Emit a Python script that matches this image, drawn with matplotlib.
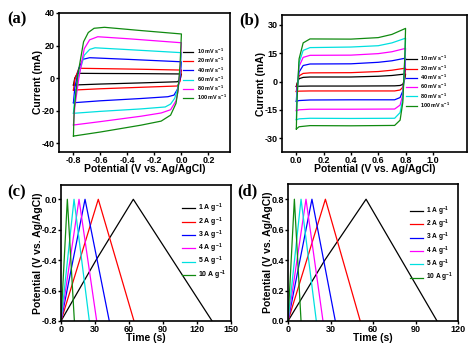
import matplotlib
matplotlib.use("Agg")
import matplotlib.pyplot as plt
from matplotlib.ticker import FormatStrFormatter

plt.rcParams['font.family'] = ['Liberation Sans', 'DejaVu Sans']
plt.rcParams['font.weight'] = 'bold'
plt.rcParams['axes.labelweight'] = 'bold'
plt.rcParams['axes.unicode_minus'] = False
plt.rcParams['mathtext.fontset'] = 'custom'
plt.rcParams['mathtext.rm'] = 'Liberation Sans:bold'
plt.rcParams['mathtext.bf'] = 'Liberation Sans:bold'
plt.rcParams['mathtext.it'] = 'Liberation Sans:bold'
plt.rcParams['mathtext.default'] = 'rm'

colors_a = ['#000000', '#ff0000', '#0000ff', '#00e0e0', '#ff00ff', '#108a10']
colors_b = ['#000000', '#ff0000', '#0000ff', '#ff00ff', '#00e0e0', '#108a10']
colors_gcd = ['#000000', '#ff0000', '#0000ff', '#ff00ff', '#00e0e0', '#108a10']

scan_labels = [r'10 mV s$^{-1}$', r'20 mV s$^{-1}$', r'40 mV s$^{-1}$',
               r'60 mV s$^{-1}$', r'80 mV s$^{-1}$', r'100 mV s$^{-1}$']
gcd_labels = [r'1 A g$^{-1}$', r'2 A g$^{-1}$', r'3 A g$^{-1}$',
              r'4 A g$^{-1}$', r'5 A g$^{-1}$', r'10 A g$^{-1}$']

# ---- panel (a) CV, -0.8..0 V ----
a_up_V = [
    [-0.8, -0.79, -0.77, -0.6, -0.3, 0.0],
    [-0.8, -0.79, -0.76, -0.6, -0.3, 0.0],
    [-0.8, -0.79, -0.76, -0.73, -0.68, -0.65, -0.4, 0.0],
    [-0.8, -0.79, -0.76, -0.72, -0.68, -0.64, -0.4, 0.0],
    [-0.8, -0.79, -0.76, -0.72, -0.68, -0.62, -0.4, 0.0],
    [-0.8, -0.795, -0.77, -0.725, -0.69, -0.647, -0.57, -0.3, 0.0],
]
a_up_I = [
    [-4.3, 0.0, 2.9, 2.8, 2.7, 2.5],
    [-7.4, -1.0, 6.0, 5.8, 5.4, 4.9],
    [-15.2, -6.0, 6.0, 11.5, 12.5, 12.4, 11.5, 10.0],
    [-21.7, -12.0, 2.0, 14.0, 17.6, 18.6, 17.5, 15.6],
    [-28.9, -18.0, 0.0, 18.0, 23.5, 25.4, 24.2, 21.7],
    [-35.7, -20.0, 0.8, 22.3, 28.0, 30.6, 31.2, 29.2, 27.1],
]
a_lo_V = [
    [0.0, -0.01, -0.03, -0.3, -0.6, -0.8],
    [0.0, -0.01, -0.03, -0.3, -0.6, -0.8],
    [0.0, -0.01, -0.03, -0.055, -0.1, -0.3, -0.6, -0.8],
    [0.0, -0.01, -0.025, -0.05, -0.08, -0.12, -0.3, -0.6, -0.8],
    [0.0, -0.01, -0.025, -0.04, -0.08, -0.15, -0.3, -0.6, -0.8],
    [0.0, -0.01, -0.025, -0.04, -0.08, -0.15, -0.3, -0.6, -0.8],
]
a_lo_I = [
    [2.5, -1.0, -2.3, -3.0, -3.7, -4.3],
    [4.9, -2.0, -4.9, -5.7, -6.6, -7.4],
    [10.0, 0.0, -7.0, -10.5, -11.5, -12.6, -14.0, -15.2],
    [15.6, 3.0, -6.0, -12.5, -16.0, -17.8, -19.0, -20.5, -21.7],
    [21.7, 5.0, -8.0, -14.0, -19.5, -21.5, -23.5, -26.8, -28.9],
    [27.1, 8.0, -7.4, -15.6, -22.8, -26.5, -29.0, -33.2, -35.7],
]

# ---- panel (b) CV, 0..0.8 V ----
b_up_V = [0.0, 0.005, 0.02, 0.05, 0.1, 0.4, 0.6, 0.7, 0.8]
b_lo_V = [0.8, 0.795, 0.78, 0.76, 0.72, 0.4, 0.1, 0.02, 0.0]
b_up_I = [
    [-2.6, -1.0, 1.5, 2.2, 2.4, 2.4, 2.8, 3.2, 4.0],
    [-5.3, -2.0, 3.0, 4.3, 4.6, 4.7, 5.3, 6.0, 7.1],
    [-10.5, -4.0, 5.0, 8.5, 9.3, 9.4, 10.2, 11.0, 12.4],
    [-15.5, -6.0, 8.0, 12.8, 13.9, 14.0, 14.8, 15.8, 17.6],
    [-20.3, -8.0, 10.0, 16.5, 18.0, 18.3, 19.0, 20.5, 23.0],
    [-25.2, -10.0, 12.0, 20.5, 22.6, 22.5, 23.3, 25.0, 28.2],
]
b_lo_I = [
    [4.0, 1.5, -1.5, -2.1, -2.3, -2.4, -2.4, -2.5, -2.6],
    [7.1, 3.0, -3.0, -4.5, -5.0, -5.0, -5.0, -5.1, -5.3],
    [12.4, 6.0, -5.0, -8.5, -9.7, -9.7, -9.8, -10.1, -10.5],
    [17.6, 9.0, -7.0, -12.5, -14.6, -14.7, -14.7, -15.0, -15.5],
    [23.0, 12.0, -9.0, -16.5, -19.5, -19.6, -19.5, -19.8, -20.3],
    [28.2, 14.0, -11.0, -20.5, -23.3, -23.5, -23.4, -24.0, -25.2],
]

# ---- panel (c) GCD, -0.8..0 V ----
c_t = [
    [0.0, 30.9, 63.8, 133.3],
    [0.0, 32.9, 64.4],
    [0.0, 21.2, 42.6],
    [0.0, 15.9, 31.5],
    [0.0, 11.5, 25.0],
    [0.0, 5.6, 11.8],
]
c_V = [
    [-0.8, -0.4, 0.0, -0.8],
    [-0.8, 0.0, -0.8],
    [-0.8, 0.0, -0.8],
    [-0.8, 0.0, -0.8],
    [-0.8, 0.0, -0.8],
    [-0.8, 0.0, -0.8],
]

# ---- panel (d) GCD, 0..0.8 V ----
d_t = [
    [0.0, 26.0, 55.1, 105.2],
    [0.0, 26.4, 51.0],
    [0.0, 16.9, 33.4],
    [0.0, 12.7, 24.7],
    [0.0, 9.2, 20.0],
    [0.0, 4.5, 9.2],
]
d_V = [
    [0.0, 0.4, 0.8, 0.0],
    [0.0, 0.8, 0.0],
    [0.0, 0.8, 0.0],
    [0.0, 0.8, 0.0],
    [0.0, 0.8, 0.0],
    [0.0, 0.8, 0.0],
]

W, H = 474, 354
fig = plt.figure(figsize=(W / 100, H / 100), dpi=100)

def add_ax(x0, y0, x1, y1):
    return fig.add_axes([x0 / W, 1 - y1 / H, (x1 - x0) / W, (y1 - y0) / H])

axA = add_ax(59, 13, 230, 152)
axB = add_ax(282, 15, 467, 152)
axC = add_ax(61, 185, 231, 321)
axD = add_ax(288, 184, 458, 321)

lw = 0.9
for k in range(6):
    axA.plot(a_up_V[k] + a_lo_V[k], a_up_I[k] + a_lo_I[k], color=colors_a[k], lw=lw, label=scan_labels[k])
    axB.plot(b_up_V + b_lo_V, b_up_I[k] + b_lo_I[k], color=colors_b[k], lw=lw, label=scan_labels[k])
    axC.plot(c_t[k], c_V[k], color=colors_gcd[k], lw=lw, label=gcd_labels[k])
    axD.plot(d_t[k], d_V[k], color=colors_gcd[k], lw=lw, label=gcd_labels[k])

axA.set_xlim(-0.907, 0.36); axA.set_ylim(-45.5, 40)
axA.set_xticks([-0.8, -0.6, -0.4, -0.2, 0.0, 0.2]); axA.set_yticks([-40, -20, 0, 20, 40])
axB.set_xlim(-0.105, 1.25); axB.set_ylim(-37.4, 35.3)
axB.set_xticks([0.0, 0.2, 0.4, 0.6, 0.8, 1.0]); axB.set_yticks([-30, -15, 0, 15, 30])
axC.set_xlim(0, 150); axC.set_ylim(-0.8, 0.094)
axC.set_xticks([0, 30, 60, 90, 120, 150]); axC.set_yticks([-0.8, -0.6, -0.4, -0.2, 0.0])
axD.set_xlim(0, 120); axD.set_ylim(0, 0.9)
axD.set_xticks([0, 30, 60, 90, 120]); axD.set_yticks([0.0, 0.2, 0.4, 0.6, 0.8])

axA.xaxis.set_major_formatter(FormatStrFormatter('%.1f'))
axB.xaxis.set_major_formatter(FormatStrFormatter('%.1f'))
axC.yaxis.set_major_formatter(FormatStrFormatter('%.1f'))
axD.yaxis.set_major_formatter(FormatStrFormatter('%.1f'))

for ax in (axA, axB, axC, axD):
    for s in ax.spines.values():
        s.set_linewidth(1.2)
    ax.tick_params(direction='out', length=2.0, width=1.0, pad=1.0, labelsize=6.5)
    for t in ax.get_xticklabels() + ax.get_yticklabels():
        t.set_fontweight('bold')

lab_fs = 7.5
axA.set_xlabel('Potential (V vs. Ag/AgCl)', fontsize=lab_fs, labelpad=-0.5)
axA.set_ylabel('Current (mA)', fontsize=lab_fs, labelpad=-1)
axB.set_xlabel('Potential (V vs. Ag/AgCl)', fontsize=lab_fs, labelpad=-0.5)
axB.set_ylabel('Current (mA)', fontsize=lab_fs, labelpad=-1)
axC.set_xlabel('Time (s)', fontsize=lab_fs, labelpad=-1)
axC.set_ylabel('Potential (V vs. Ag/AgCl)', fontsize=lab_fs, labelpad=-1)
axD.set_xlabel('Time (s)', fontsize=lab_fs, labelpad=-1)
axD.set_ylabel('Potential (V vs. Ag/AgCl)', fontsize=lab_fs, labelpad=-1)

leg_kw = dict(loc='upper left', frameon=False, borderpad=0, borderaxespad=0)
axA.legend(bbox_to_anchor=(0.723, 0.758), fontsize=4, handlelength=1.9,
           handletextpad=0.6, labelspacing=0.0, **leg_kw)
axB.legend(bbox_to_anchor=(0.672, 0.715), fontsize=4, handlelength=1.9,
           handletextpad=0.6, labelspacing=0.0, **leg_kw)
axC.legend(bbox_to_anchor=(0.712, 0.875), fontsize=5.0, handlelength=1.9,
           handletextpad=0.45, labelspacing=0.0, **leg_kw)
axD.legend(bbox_to_anchor=(0.716, 0.85), fontsize=4.8, handlelength=1.95,
           handletextpad=0.45, labelspacing=0.0, **leg_kw)

pl_kw = dict(fontsize=12, fontweight='bold', family=['Liberation Serif', 'DejaVu Serif'],
             ha='left', va='center')
fig.text(7 / W, 1 - 19 / H, '(a)', **pl_kw)
fig.text(239 / W, 1 - 20 / H, '(b)', **pl_kw)
fig.text(7 / W, 1 - 192 / H, '(c)', **pl_kw)
fig.text(237 / W, 1 - 191 / H, '(d)', **pl_kw)

fig.savefig('out.png', dpi=100)
